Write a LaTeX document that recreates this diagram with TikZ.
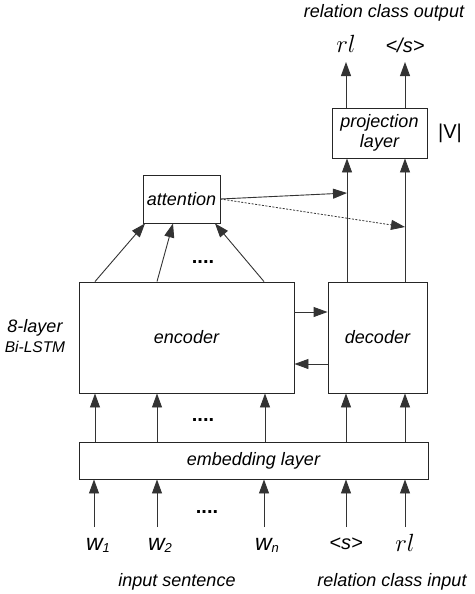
\documentclass[tikz,border=0pt]{standalone}
\usepackage{fontspec}
\setmainfont{Liberation Sans}
\usetikzlibrary{arrows.meta}
\begin{document}
\begin{tikzpicture}[x=1pt,y=-1pt,
  lbl/.style={font=\fontsize{18}{20}\selectfont\itshape, inner sep=0pt},
  box/.style={draw=black!85, line width=0.9pt, fill=white, inner sep=0pt, font=\fontsize{18}{20}\selectfont\itshape, align=center},
  arr/.style={draw=black!80, line width=0.9pt, -{Triangle[length=14pt,width=10pt]}},
  dots/.style={font=\fontsize{20}{20}\selectfont\bfseries, inner sep=0pt}]
\useasboundingbox (0,0) rectangle (474,594);
% boxes
\node[box, minimum width=215pt, minimum height=111pt] (enc) at (186.5,337.5) {encoder};
\node[box, minimum width=99pt, minimum height=111pt] (dec) at (377.5,337.5) {decoder};
\node[box, minimum width=349pt, minimum height=37pt] (emb) at (253.5,460.5) {embedding layer};
\node[box, minimum width=77pt, minimum height=48pt] (att) at (181.5,199) {attention};
\node[box, minimum width=95pt, minimum height=50pt] (proj) at (379.5,133) {projection\\layer};
% side labels
\node[lbl] (l8) at (35,328) {8-layer};
\node[lbl, font=\fontsize{15.5}{18}\selectfont\itshape] (lbi) at (35,347) {Bi-LSTM};
\node[inner sep=0pt, font=\fontsize{20}{20}\selectfont] (vv) at (450,133) {|V|};
\node[lbl] (out) at (384,13) {relation class output};
\node[lbl] (insent) at (177,582) {input sentence};
\node[lbl] (inrel) at (392,582) {relation class input};
% dots
\node[dots] (d1) at (203,262) {....};
\node[dots] (d2) at (203,420) {....};
\node[dots] (d3) at (207,512) {....};
% input labels
\node[inner sep=0pt, font=\fontsize{23}{23}\selectfont\itshape] (w1) at (98,545) {w\raisebox{-2pt}{\fontsize{13}{13}\selectfont 1}};
\node[inner sep=0pt, font=\fontsize{23}{23}\selectfont\itshape] (w2) at (160,545) {w\raisebox{-2pt}{\fontsize{13}{13}\selectfont 2}};
\node[inner sep=0pt, font=\fontsize{23}{23}\selectfont\itshape] (wn) at (267,545) {w\raisebox{-2pt}{\fontsize{13}{13}\selectfont n}};
\node[lbl, font=\fontsize{20}{20}\selectfont\itshape] (sin) at (346,544) {<s>};
\node[inner sep=0pt, font=\fontsize{25}{25}\selectfont] (rlin) at (405,543) {$rl$};
\node[inner sep=0pt, font=\fontsize{25}{25}\selectfont] (rlout) at (346,44) {$rl$};
\node[lbl, font=\fontsize{20}{20}\selectfont\itshape] (sout) at (405,45) {</s>};
% input arrows
\foreach \n/\x in {1/94,2/157,3/264,4/346,5/405}{
  \coordinate (i\n) at (\x,527);
  \draw[arr] (i\n) -- (i\n |- emb.south);
}
% embedding to encoder / decoder
\foreach \x in {95,157,265}{
  \draw[arr] (\x,0 |- emb.north) -- (\x,0 |- enc.south);
}
\foreach \x in {346,405}{
  \draw[arr] (\x,0 |- emb.north) -- (\x,0 |- dec.south);
}
% encoder <-> decoder
\draw[arr] (enc.east |- 0,312) -- (dec.west |- 0,312);
\draw[arr] (dec.west |- 0,364) -- (enc.east |- 0,364);
% encoder to attention
\draw[arr] (95,0 |- enc.north) -- (145,0 |- att.south);
\draw[arr] (157,0 |- enc.north) -- (173,0 |- att.south);
\draw[arr] (264,0 |- enc.north) -- (215,0 |- att.south);
% decoder to projection
\draw[arr] (347,0 |- dec.north) -- (347,0 |- proj.south);
\draw[arr] (405,0 |- dec.north) -- (405,0 |- proj.south);
% attention to decoder lines
\coordinate (a1) at (347,193);
\coordinate (a2) at (405,227);
\draw[arr] (att.east) -- (a1);
\draw[arr, dash pattern=on 2pt off 1.5pt, line width=0.8pt] (att.east) -- (a2);
% projection outputs
\draw[arr] (346,0 |- proj.north) -- (346,62);
\draw[arr] (405,0 |- proj.north) -- (405,62);
\end{tikzpicture}
\end{document}
